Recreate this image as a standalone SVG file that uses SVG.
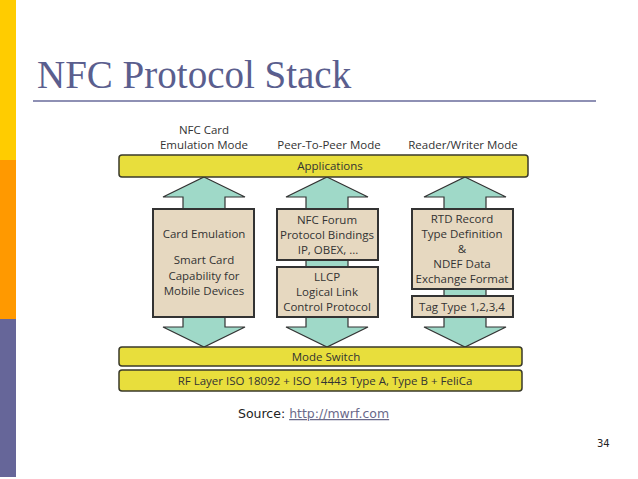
<svg xmlns="http://www.w3.org/2000/svg" width="638" height="479" viewBox="0 0 638 479">
<style>
.bar{fill:#e8de3c;stroke:#3a3a2a;stroke-width:1.5}
.box{fill:#e6d8c0;stroke:#333;stroke-width:2}
.arr{fill:#9fd9c8;stroke:#333;stroke-width:1.2}
.t{font-family:"Open Sans","DejaVu Sans",sans-serif;font-size:11.5px;fill:#333;text-anchor:middle}
</style>
<rect x="0" y="0" width="638" height="479" fill="#fff"/>
<rect x="0" y="0" width="16" height="160" fill="#ffcc00"/>
<rect x="0" y="160" width="16" height="159" fill="#ff9900"/>
<rect x="0" y="319" width="16" height="158" fill="#666699"/>
<text x="37" y="88" font-family="Liberation Serif,serif" font-size="39" fill="#5a5e8e">NFC Protocol Stack</text>
<rect x="33" y="100" width="563" height="2" fill="#8e90b4"/>
<g id="connectors">
<path class="arr" d="M204,177 L245,197 L225,197 L225,327 L245,327 L204,347 L163,327 L183,327 L183,197 L163,197 Z"/>
<path class="arr" d="M327,177 L368,197 L348,197 L348,327 L368,327 L327,347 L286,327 L306,327 L306,197 L286,197 Z"/>
<path class="arr" d="M465,177 L506,197 L486,197 L486,327 L506,327 L465,347 L424,327 L444,327 L444,197 L424,197 Z"/>
</g>
<g class="t">
<text x="204" y="134">NFC Card</text>
<text x="204" y="149">Emulation Mode</text>
<text x="329" y="149">Peer-To-Peer Mode</text>
<text x="463" y="149">Reader/Writer Mode</text>
</g>
<g id="applications"><rect class="bar" x="119" y="155" width="409" height="22" rx="3"/><text class="t" x="330" y="170">Applications</text></g>
<g id="card"><rect class="box" x="153" y="209" width="101" height="108"/>
<text class="t" x="204" y="238">Card Emulation</text>
<text class="t" x="204" y="264">Smart Card</text>
<text class="t" x="204" y="280">Capability for</text>
<text class="t" x="204" y="295">Mobile Devices</text></g>
<g id="nfcforum"><rect class="box" x="277" y="209" width="101" height="51"/>
<text class="t" x="327" y="224">NFC Forum</text>
<text class="t" x="327" y="239">Protocol Bindings</text>
<text class="t" x="328" y="254">IP, OBEX, ...</text></g>
<g id="llcp"><rect class="box" x="277" y="267" width="101" height="50"/>
<text class="t" x="327" y="281">LLCP</text>
<text class="t" x="327" y="296">Logical Link</text>
<text class="t" x="327" y="311">Control Protocol</text></g>
<g id="rtd"><rect class="box" x="412" y="209" width="101" height="80"/>
<text class="t" x="462" y="223">RTD Record</text>
<text class="t" x="462" y="238">Type Definition</text>
<text class="t" x="462" y="253">&amp;</text>
<text class="t" x="462" y="268">NDEF Data</text>
<text class="t" x="462" y="283">Exchange Format</text></g>
<g id="tag"><rect class="box" x="412" y="296" width="101" height="21"/>
<text class="t" x="462" y="311">Tag Type 1,2,3,4</text></g>
<g id="modeswitch"><rect class="bar" x="119" y="347" width="403" height="19" rx="3"/><text class="t" x="326" y="361">Mode Switch</text></g>
<g id="rf"><rect class="bar" x="119" y="370" width="403" height="21" rx="3"/><text class="t" x="325" y="385">RF Layer ISO 18092 + ISO 14443 Type A, Type B + FeliCa</text></g>
<text x="238" y="418" font-family="DejaVu Sans,sans-serif" font-size="12.5" fill="#222">Source: <tspan fill="#6a6a8a" text-decoration="underline">http://mwrf.com</tspan></text>
<text x="597" y="447" font-family="DejaVu Sans,sans-serif" font-size="10" fill="#222">34</text>
</svg>
